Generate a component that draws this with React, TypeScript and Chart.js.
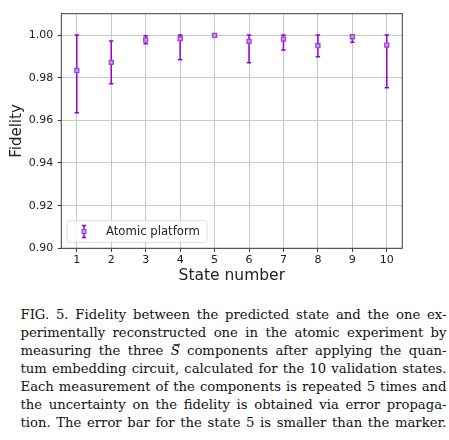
import React, { useEffect, useRef } from "react";
import { Chart, registerables } from "chart.js";

Chart.register(...registerables);

const states = [1, 2, 3, 4, 5, 6, 7, 8, 9, 10];
const fidelity = [0.9834, 0.9872, 0.9977, 0.9983, 0.9998, 0.997, 0.9981, 0.995, 0.9992, 0.9953];
const lowerBound = [0.9636, 0.9772, 0.9959, 0.9884, 0.9998, 0.987, 0.993, 0.9898, 0.9966, 0.9753];
const upperBound = [1.0, 0.9972, 0.9997, 1.0, 0.9998, 1.0, 1.0, 1.0, 1.0, 1.0];
const xTicks = [1, 2, 3, 4, 5, 6, 7, 8, 9, 10];
const yTicks = [0.9, 0.92, 0.94, 0.96, 0.98, 1.0];
const seriesLabel = "Atomic platform";

const PURPLE = "#9400d3";
const MARKER_FILL = "rgba(196,150,222,1)";
const MARKER_EDGE = "rgba(160,60,225,1)";
const FONT = "'DejaVu Sans', sans-serif";

const errorBarPlugin = {
  id: "errorBars",
  beforeDatasetsDraw(chart: any) {
    const { ctx, scales } = chart;
    const xs = scales.x;
    const ys = scales.y;
    ctx.save();
    ctx.strokeStyle = PURPLE;
    ctx.lineWidth = 1.5;
    states.forEach((s, i) => {
      const x = xs.getPixelForValue(s);
      const y1 = ys.getPixelForValue(lowerBound[i]);
      const y2 = ys.getPixelForValue(upperBound[i]);
      if (Math.abs(y1 - y2) < 0.5) return;
      ctx.beginPath();
      ctx.moveTo(x, y1);
      ctx.lineTo(x, y2);
      ctx.moveTo(x - 2.2, y1);
      ctx.lineTo(x + 2.2, y1);
      ctx.moveTo(x - 2.2, y2);
      ctx.lineTo(x + 2.2, y2);
      ctx.stroke();
    });
    ctx.restore();
  },
};

const framePlugin = {
  id: "frameLegend",
  afterDraw(chart: any) {
    const { ctx, chartArea } = chart;
    const { left, right, top, bottom } = chartArea;
    ctx.save();
    ctx.strokeStyle = "#3a3a3a";
    ctx.lineWidth = 1;
    ctx.strokeRect(left, top, right - left, bottom - top);

    // legend
    const bx = left + 5.7;
    const bw = 140;
    const bh = 21.6;
    const by = bottom - 6 - bh;
    const r = 2.5;
    ctx.beginPath();
    ctx.moveTo(bx + r, by);
    ctx.lineTo(bx + bw - r, by);
    ctx.quadraticCurveTo(bx + bw, by, bx + bw, by + r);
    ctx.lineTo(bx + bw, by + bh - r);
    ctx.quadraticCurveTo(bx + bw, by + bh, bx + bw - r, by + bh);
    ctx.lineTo(bx + r, by + bh);
    ctx.quadraticCurveTo(bx, by + bh, bx, by + bh - r);
    ctx.lineTo(bx, by + r);
    ctx.quadraticCurveTo(bx, by, bx + r, by);
    ctx.closePath();
    ctx.fillStyle = "rgba(255,255,255,0.8)";
    ctx.fill();
    ctx.strokeStyle = "#dcdcdc";
    ctx.stroke();

    const sx = bx + 17;
    const sy = by + bh / 2;
    ctx.strokeStyle = PURPLE;
    ctx.lineWidth = 1.5;
    ctx.beginPath();
    ctx.moveTo(sx, sy - 6);
    ctx.lineTo(sx, sy + 6);
    ctx.moveTo(sx - 2.2, sy - 6);
    ctx.lineTo(sx + 2.2, sy - 6);
    ctx.moveTo(sx - 2.2, sy + 6);
    ctx.lineTo(sx + 2.2, sy + 6);
    ctx.stroke();
    ctx.fillStyle = MARKER_FILL;
    ctx.strokeStyle = MARKER_EDGE;
    ctx.lineWidth = 1;
    ctx.fillRect(sx - 2, sy - 2, 4, 4);
    ctx.strokeRect(sx - 2, sy - 2, 4, 4);

    ctx.fillStyle = "#222";
    ctx.font = `11.7px ${FONT}`;
    ctx.textBaseline = "middle";
    ctx.textAlign = "left";
    ctx.fillText(seriesLabel, bx + 39, sy + 0.5);
    ctx.restore();
  },
};

export default function App() {
  const ref = useRef<HTMLCanvasElement | null>(null);

  useEffect(() => {
    document.body.style.margin = "0";
    const canvas = ref.current;
    if (!canvas) return;
    const chart = new Chart(canvas, {
      type: "scatter",
      data: {
        datasets: [
          {
            label: seriesLabel,
            data: states.map((s, i) => ({ x: s, y: fidelity[i] })),
            pointStyle: "rect",
            pointRadius: 2.9,
            pointBackgroundColor: MARKER_FILL,
            pointBorderColor: MARKER_EDGE,
            pointBorderWidth: 1.2,
            showLine: false,
          },
        ],
      },
      options: {
        responsive: false,
        animation: false,
        events: [],
        layout: { padding: { left: 0, right: 46.7, top: 13.7, bottom: 0 } },
        plugins: {
          legend: { display: false },
          tooltip: { enabled: false },
        },
        scales: {
          x: {
            type: "linear",
            min: 0.55,
            max: 10.45,
            afterBuildTicks: (s: any) => {
              s.ticks = xTicks.map((v) => ({ value: v }));
            },
            afterFit: (s: any) => {
              s.height = 41.7;
            },
            grid: { color: "#c8c8c8", lineWidth: 1, tickColor: "#333", tickLength: 3.5 },
            border: { display: false },
            ticks: {
              color: "#222",
              font: { family: FONT, size: 11 },
              padding: 2,
              maxRotation: 0,
              autoSkip: false,
              callback: (v: any) => String(v),
            },
            title: {
              display: true,
              text: "State number",
              color: "#222",
              font: { family: FONT, size: 15.5 },
              padding: { top: 0, bottom: 4.5 },
            },
          },
          y: {
            type: "linear",
            min: 0.9,
            max: 1.01,
            afterBuildTicks: (s: any) => {
              s.ticks = yTicks.map((v) => ({ value: v }));
            },
            afterFit: (s: any) => {
              s.width = 61.3;
            },
            grid: { color: "#c8c8c8", lineWidth: 1, tickColor: "#333", tickLength: 3.5 },
            border: { display: false },
            ticks: {
              color: "#222",
              font: { family: FONT, size: 11 },
              padding: 4.5,
              autoSkip: false,
              callback: (v: any) => Number(v).toFixed(2),
            },
            title: {
              display: true,
              text: "Fidelity",
              color: "#222",
              font: { family: FONT, size: 15 },
              padding: { top: 8.5, bottom: 0 },
            },
          },
        },
      },
      plugins: [errorBarPlugin, framePlugin],
    } as any);
    return () => chart.destroy();
  }, []);

  const lineStyle: React.CSSProperties = {
    textAlign: "justify",
    textAlignLast: "justify",
    whiteSpace: "nowrap",
    height: "18px",
  };

  const lines: React.ReactNode[] = [
    "FIG. 5. Fidelity between the predicted state and the one ex-",
    "perimentally reconstructed one in the atomic experiment by",
    <>
      measuring the three{" "}
      <span style={{ position: "relative", fontStyle: "italic" }}>
        S
        <span
          style={{
            position: "absolute",
            left: "2px",
            top: "-8px",
            fontSize: "9px",
            fontStyle: "normal",
          }}
        >
          →
        </span>
      </span>{" "}
      components after applying the quan-
    </>,
    "tum embedding circuit, calculated for the 10 validation states.",
    "Each measurement of the components is repeated 5 times and",
    "the uncertainty on the fidelity is obtained via error propaga-",
    "tion. The error bar for the state 5 is smaller than the marker.",
  ];

  return (
    <div style={{ width: "449px", height: "440px", position: "relative", background: "#fff" }}>
      <canvas ref={ref} width={449} height={290} style={{ width: "449px", height: "290px", display: "block" }} />
      <div
        style={{
          position: "absolute",
          left: "20.5px",
          top: "306px",
          width: "426px",
          fontFamily: "'DejaVu Serif', serif",
          fontSize: "13.2px",
          lineHeight: "18px",
          color: "#111",
        }}
      >
        {lines.map((l, i) => (
          <div key={i} style={{ ...lineStyle, display: "block", textAlignLast: "justify" }}>
            <span style={{ display: "inline" }}>{l}</span>
          </div>
        ))}
      </div>
    </div>
  );
}
